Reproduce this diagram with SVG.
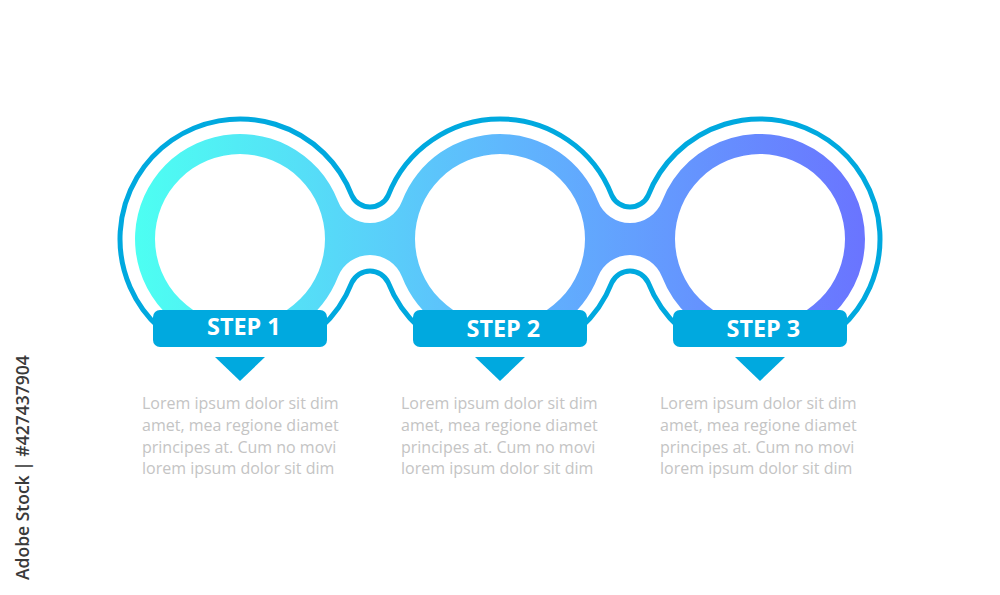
<svg xmlns="http://www.w3.org/2000/svg" width="1000" height="595" viewBox="0 0 1000 595">
<style>
.label{fill:#00a9df}
.step{font-family:"Open Sans","Noto Sans",sans-serif;font-weight:700;font-size:23.4px;fill:#fff}
.body{font-family:"Open Sans","Noto Sans",sans-serif;font-size:16px;fill:#c4c4c4}
.credit{font-family:"Open Sans","Noto Sans",sans-serif;font-weight:600;font-size:17.5px;fill:#3a3a3a}
.outline{fill:none;stroke:#00a9df;stroke-width:5}
</style>
<defs>
<linearGradient id="band" gradientUnits="userSpaceOnUse" x1="135" y1="0" x2="865" y2="0">
<stop offset="0" stop-color="#4dfff2"/>
<stop offset="0.5" stop-color="#5fb8fd"/>
<stop offset="1" stop-color="#6a74ff"/>
</linearGradient>
</defs>
<rect width="1000" height="595" fill="#fff"/>
<g id="connectors">
<path id="band-shape" fill="url(#band)" fill-rule="evenodd" d="M240 344A105 105 0 1 1 337.9 201A34.4 34.4 0 0 0 402.1 201A105 105 0 0 1 597.9 201A34.4 34.4 0 0 0 662.1 201A105 105 0 1 1 662.1 277A34.4 34.4 0 0 0 597.9 277A105 105 0 0 1 402.1 277A34.4 34.4 0 0 0 337.9 277A105 105 0 0 1 240 344ZM155 239A85 85 0 1 0 325 239A85 85 0 1 0 155 239ZM415 239A85 85 0 1 0 585 239A85 85 0 1 0 415 239ZM675 239A85 85 0 1 0 845 239A85 85 0 1 0 675 239Z"/>
<path class="outline" d="M160 328.400A120 120 0 1 1 351.900 195.600A20 20 0 0 0 388.100 195.600A120 120 0 0 1 611.900 195.600A20 20 0 0 0 648.100 195.600A120 120 0 1 1 840 328.400"/>
<path class="outline" d="M320 328.400A120 120 0 0 0 351.900 282.400A20 20 0 0 1 388.100 282.400A120 120 0 0 0 420 328.400"/>
<path class="outline" d="M580 328.400A120 120 0 0 0 611.900 282.400A20 20 0 0 1 648.100 282.400A120 120 0 0 0 680 328.400"/>
</g>
<g id="step-1">
<rect class="label" x="153" y="310" width="174" height="37" rx="7"/>
<text class="step" x="207" y="335">STEP 1</text>
<polygon class="label" points="215,357 265,357 240,381"/>
<text class="body"><tspan x="142" y="409">Lorem ipsum dolor sit dim</tspan><tspan x="142" y="430.5">amet, mea regione diamet</tspan><tspan x="142" y="452.5">principes at. Cum no movi</tspan><tspan x="142" y="474">lorem ipsum dolor sit dim</tspan></text>
</g>
<g id="step-2">
<rect class="label" x="413" y="310" width="174" height="37" rx="7"/>
<text class="step" x="466.500" y="337">STEP 2</text>
<polygon class="label" points="475,357 525,357 500,381"/>
<text class="body"><tspan x="401" y="409">Lorem ipsum dolor sit dim</tspan><tspan x="401" y="430.5">amet, mea regione diamet</tspan><tspan x="401" y="452.5">principes at. Cum no movi</tspan><tspan x="401" y="474">lorem ipsum dolor sit dim</tspan></text>
</g>
<g id="step-3">
<rect class="label" x="673" y="310" width="174" height="37" rx="7"/>
<text class="step" x="726.500" y="337">STEP 3</text>
<polygon class="label" points="735,357 785,357 760,381"/>
<text class="body"><tspan x="660" y="409">Lorem ipsum dolor sit dim</tspan><tspan x="660" y="430.5">amet, mea regione diamet</tspan><tspan x="660" y="452.5">principes at. Cum no movi</tspan><tspan x="660" y="474">lorem ipsum dolor sit dim</tspan></text>
</g>
<text class="credit" transform="translate(29 580) rotate(-90)">Adobe Stock | #427437904</text>
</svg>
